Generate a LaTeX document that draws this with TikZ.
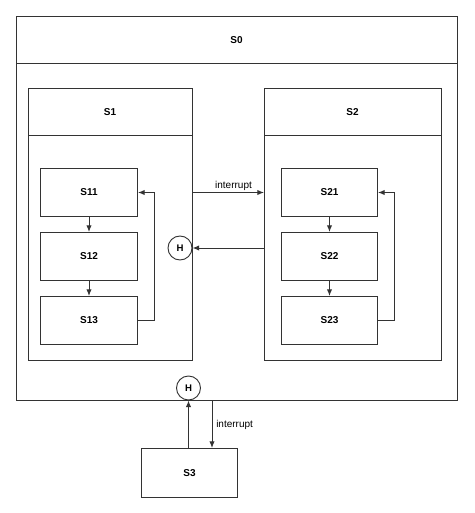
\documentclass[tikz,border=0pt]{standalone}
\usepackage{fontspec}
\setmainfont{Liberation Sans}
\usetikzlibrary{arrows.meta,calc}
\definecolor{ln}{HTML}{333333}
\tikzset{
  box/.style={draw=ln, line width=0.75pt, rectangle, anchor=north west, inner sep=0pt},
  hdr/.style={draw=ln, line width=0.75pt},
  ttl/.style={font=\fontsize{7.5}{8}\selectfont\bfseries, inner sep=0pt},
  lbl/.style={font=\fontsize{7.5}{8}\selectfont, inner sep=0pt},
  hist/.style={draw=ln, line width=0.7pt, circle, minimum size=24*0.75pt, inner sep=0pt, font=\fontsize{7.2}{8}\selectfont\bfseries},
  arr/.style={draw=ln, line width=0.75pt, -{Latex[length=5pt,width=4pt]}}
}
\begin{document}
\begin{tikzpicture}[x=0.75pt,y=-0.75pt]
\useasboundingbox[fill=white] (0,0) rectangle (474,513);
% S0
\node[box, minimum width=441*0.75pt, minimum height=384*0.75pt] (S0) at (16,16) {};
\draw[hdr] (S0.west |- 0,64) -- (S0.east |- 0,64);
\node[ttl] (S0t) at (236.5,40) {S0};
% S1
\node[box, minimum width=164*0.75pt, minimum height=272*0.75pt] (S1) at (28,88) {};
\draw[hdr] (S1.west |- 0,136) -- (S1.east |- 0,136);
\node[ttl] (S1t) at (110,112) {S1};
% S2
\node[box, minimum width=177*0.75pt, minimum height=272*0.75pt] (S2) at (264,88) {};
\draw[hdr] (S2.west |- 0,136) -- (S2.east |- 0,136);
\node[ttl] (S2t) at (352.5,112) {S2};
% inner states
\node[box, minimum width=97*0.75pt, minimum height=48*0.75pt] (S11) at (40,168) {};
\node[ttl] at (S11.center) {S11};
\node[box, minimum width=97*0.75pt, minimum height=48*0.75pt] (S12) at (40,232) {};
\node[ttl] at (S12.center) {S12};
\node[box, minimum width=97*0.75pt, minimum height=48*0.75pt] (S13) at (40,296) {};
\node[ttl] at (S13.center) {S13};
\node[box, minimum width=96*0.75pt, minimum height=48*0.75pt] (S21) at (281,168) {};
\node[ttl] at (S21.center) {S21};
\node[box, minimum width=96*0.75pt, minimum height=48*0.75pt] (S22) at (281,232) {};
\node[ttl] at (S22.center) {S22};
\node[box, minimum width=96*0.75pt, minimum height=48*0.75pt] (S23) at (281,296) {};
\node[ttl] at (S23.center) {S23};
% S3
\node[box, minimum width=96*0.75pt, minimum height=49*0.75pt] (S3) at (141,448) {};
\node[ttl] at (S3.center) {S3};
% history nodes
\node[hist] (H1) at (180,248) {H};
\node[hist] (H0) at (188.5,388) {H};
% connectors
\draw[arr] (S11) -- (S12);
\draw[arr] (S12) -- (S13);
\draw[arr] (S13.east) -- ++(16,0) |- (S11.east);
\draw[arr] (S21) -- (S22);
\draw[arr] (S22) -- (S23);
\draw[arr] (S23.east) -- ++(16,0) |- (S21.east);
\draw[arr] (S1.east |- S11.east) -- (S2.west |- S11.east);
\node[lbl] (i1) at (233.5,186) {interrupt};
\draw[arr] (S2.west |- H1) -- (H1.east);
\draw[arr] (H0 |- S3.north) -- (H0.south);
\coordinate (d) at (212,400);
\draw[arr] (d) -- (d |- S3.north);
\node[lbl, anchor=west] (i2) at (216,425) {interrupt};
\end{tikzpicture}
\end{document}
